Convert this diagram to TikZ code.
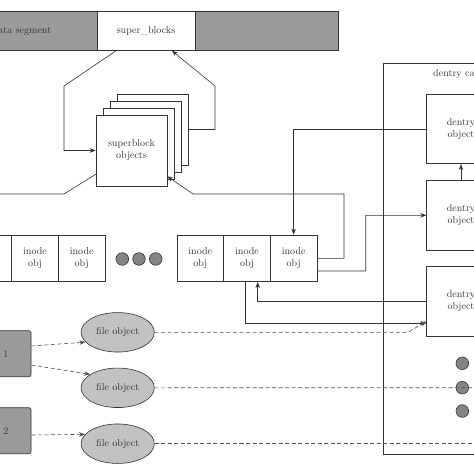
\documentclass[tikz,border=0pt]{standalone}
\usepackage{tikz}
\usetikzlibrary{shapes.geometric, arrows.meta, positioning}
\definecolor{SegGray}{HTML}{9B9B9B}
\definecolor{FileGray}{HTML}{C2C2C2}
\definecolor{DotGray}{HTML}{858585}
\definecolor{LineDark}{HTML}{333333}
\newcommand{\unitpx}{0.035cm}
\tikzset{
  seg/.style={rectangle, draw=LineDark, semithick, minimum height=39.5*\unitpx,
    inner sep=0pt},
  cell/.style={rectangle, draw=LineDark, semithick, fill=white, align=center,
    minimum width=46.7*\unitpx, minimum height=46.7*\unitpx, inner sep=0pt},
  card/.style={rectangle, draw=LineDark, semithick, fill=white, align=center,
    minimum size=71*\unitpx, inner sep=0pt},
  dentrybox/.style={rectangle, draw=LineDark, semithick, fill=white, align=center,
    minimum width=68.6*\unitpx, minimum height=69.5*\unitpx, inner sep=0pt},
  fileobj/.style={ellipse, draw=LineDark, semithick, fill=FileGray,
    minimum width=73.3*\unitpx, minimum height=39.5*\unitpx, inner sep=0pt},
  proc/.style={rectangle, rounded corners=2pt, draw=LineDark, semithick,
    fill=SegGray, minimum width=50*\unitpx, minimum height=46*\unitpx},
  dot/.style={circle, draw=LineDark, semithick, fill=DotGray,
    minimum size=12.6*\unitpx, inner sep=0pt},
  arrow/.style={-{Stealth[length=6pt, width=4.5pt]}, semithick, draw=LineDark},
  dasharrow/.style={-{Stealth[length=6pt, width=4.5pt]}, semithick, draw=LineDark!85,
    dash pattern=on 4pt off 2.5pt},
  dashline/.style={semithick, draw=LineDark!85, dash pattern=on 4pt off 2.5pt},
}

\begin{document}
\begin{tikzpicture}[x=0.035cm, y=-0.035cm, text=LineDark]

  \useasboundingbox (0,0) rectangle (474,474);
  \clip (0,0) rectangle (474,474);

  % Data segment bar
  \node[seg, fill=SegGray, minimum width=150*\unitpx] (seg1) at (22,30.75) {data segment};
  \node[seg, fill=white, minimum width=98*\unitpx] (sb) at (146,30.75) {super\_blocks};
  \node[seg, fill=SegGray, minimum width=143*\unitpx] (seg3) at (266.5,30.75) {};

  % Superblock objects (stacked)
  \node[card] (card4) at (152.5,129.5) {};
  \node[card] (card3) at (145.5,136.5) {};
  \node[card] (card2) at (138.5,143.5) {};
  \node[card] (sbo) at (131.5,150.5) {superblock\\objects};

  % Inode objects
  \node[cell] (l1) at (-11.7,258.3) {};
  \node[cell] (l2) at (35,258.3) {inode\\obj};
  \node[cell] (l3) at (81.7,258.3) {inode\\obj};
  \node[dot] (d1) at (122.3,259) {};
  \node[dot] (d2) at (139,259) {};
  \node[dot] (d3) at (155.7,259) {};
  \node[cell] (i1) at (200.3,258.3) {inode\\obj};
  \node[cell] (i2) at (247,258.3) {inode\\obj};
  \node[cell] (i3) at (293.7,258.3) {inode\\obj};

  % Dentry cache
  \node[rectangle, draw=LineDark, semithick, minimum width=136.7*\unitpx,
    minimum height=390.7*\unitpx] (dcache) at (451.7,258.7) {};
  \node (dclabel) at (461,74) {dentry cache};
  \node[dentrybox] (de1) at (461,129) {dentry\\object};
  \node[dentrybox] (de2) at (461,215.3) {dentry\\object};
  \node[dentrybox] (de3) at (461,301.3) {dentry\\object};
  \node[dot] (c1) at (462.3,363.3) {};
  \node[dot] (c2) at (462.3,387.7) {};
  \node[dot] (c3) at (462.3,411) {};

  % Processes and file objects
  \node[proc] (p1) at (6,353.7) {1};
  \node[proc] (p2) at (6,430.7) {2};
  \node[fileobj] (f1) at (117.7,332.3) {file object};
  \node[fileobj] (f2) at (117.7,387.8) {file object};
  \node[fileobj] (f3) at (117.7,443.7) {file object};

  \coordinate (sbout) at (-20,194);
  \coordinate (out2) at (490,387.7);
  \coordinate (out3) at (490,443.7);

  % Superblock links
  \draw[arrow] ([shift={(-30,0)}]sb.south) -- (64,86) -- (64,150.5) -- (sbo.west);
  \draw[arrow] (card4.east) -- (215,129.5) -- (215,86) -- ([shift={(26,0)}]sb.south);
  \draw[LineDark, semithick] ([shift={(0,-12)}]sbo.south west) -- (64,194) -- (sbout);
  \draw[arrow] (i3.east) -- (344,258.3) -- (344,194) -- (193,194)
    -- ([shift={(0,-10)}]sbo.south east);

  % Dentry links
  \draw[arrow] (de2.north) -- (de1.south);
  \draw[arrow] (de1.west) -| (i3.north);
  \draw[arrow] ([shift={(0,12.7)}]i3.east) -- (365.7,271) |- (de2.west);
  \draw[arrow] (de3.west) -| ([shift={(10.7,0)}]i2.south);
  \draw[arrow] ([shift={(-1.3,0)}]i2.south) |- ([shift={(0,22)}]de3.west);

  % File links
  \draw[dasharrow] ([shift={(0,-7.7)}]p1.east) -- (f1.197);
  \draw[dasharrow] ([shift={(0,11.3)}]p1.east) -- (f2.154);
  \draw[dasharrow] ([shift={(0,4.3)}]p2.east) -- (f3.164);
  \draw[dasharrow] (f1.east) -- (408,332.3) -- ([shift={(0,20)}]de3.west);
  \draw[dashline] (f2.east) -- (out2);
  \draw[dashline] (f3.east) -- (out3);

\end{tikzpicture}
\end{document}
